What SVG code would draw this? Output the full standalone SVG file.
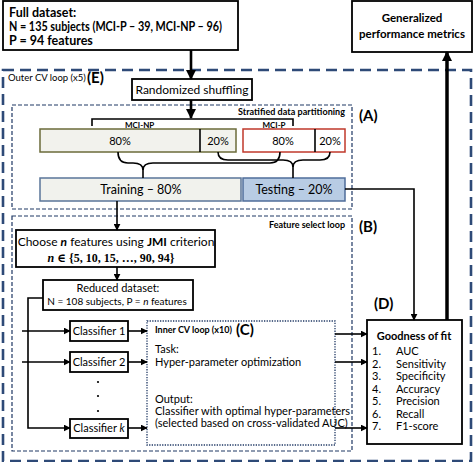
<svg xmlns="http://www.w3.org/2000/svg" width="474" height="462" viewBox="0 0 474 462">
<style>
text{font-family:Lato,"Open Sans","Liberation Sans",sans-serif;fill:#000}
.b{font-weight:bold}
.box{fill:#fff;stroke:#000;stroke-width:1.8}
.lbl{font-size:11px}
.big{font-size:15px;font-weight:bold}
.sm{font-size:9px;font-weight:bold}
.ln{fill:none;stroke:#000;stroke-width:1.6}
.th{fill:none;stroke:#000;stroke-width:2.6}
</style>
<defs>
<marker id="ah" viewBox="0 0 10 10" refX="9" refY="5" markerWidth="7" markerHeight="7" markerUnits="userSpaceOnUse" orient="auto"><path d="M0,0 L10,5 L0,10 z" fill="#000"/></marker>
<marker id="ahb" viewBox="0 0 10 10" refX="9" refY="5" markerWidth="10" markerHeight="10" markerUnits="userSpaceOnUse" orient="auto"><path d="M0,0 L10,5 L0,10 z" fill="#000"/></marker>
</defs>
<rect width="474" height="462" fill="#fff"/>

<!-- loops -->
<g id="outer-loop">
<rect x="3" y="70" width="468" height="391" fill="none" stroke="#2e4a77" stroke-width="2.6" stroke-dasharray="11 6"/>
<text x="8" y="81" style="font-size:9.5px">Outer CV loop (x5)</text>
<text x="87" y="83" class="big">(E)</text>
</g>
<g id="loop-A">
<rect x="12" y="105" width="340" height="104" fill="none" stroke="#1f3864" stroke-width="1.2" stroke-dasharray="4 2"/>
<text x="345" y="115" class="sm" text-anchor="end" textLength="107">Stratified data partitioning</text>
<text x="359" y="121" class="big">(A)</text>
</g>
<g id="loop-B">
<rect x="12" y="216" width="340" height="235" fill="none" stroke="#1f3864" stroke-width="1.2" stroke-dasharray="4 2"/>
<text x="345" y="228" class="sm" text-anchor="end">Feature select loop</text>
<text x="359" y="232" class="big">(B)</text>
</g>

<g id="full-dataset">
<rect x="3" y="1" width="235" height="49" class="box"/>
<text x="9" y="17" class="b" font-size="12.5">Full dataset:</text>
<text x="9" y="31" class="b" font-size="12.5" textLength="213" lengthAdjust="spacingAndGlyphs">N = 135 subjects (MCI-P – 39, MCI-NP – 96)</text>
<text x="9" y="45" class="b" font-size="12.5">P = 94 features</text>
</g>
<g id="generalized">
<rect x="352" y="1" width="120" height="51" class="box"/>
<text x="412" y="22" class="b" font-size="11.5" text-anchor="middle">Generalized</text>
<text x="412" y="38" class="b" font-size="11.5" text-anchor="middle">performance metrics</text>
</g>
<g id="shuffle">
<rect x="132" y="79" width="120" height="21" class="box"/>
<text x="192" y="94" font-size="12" text-anchor="middle">Randomized shuffling</text>
</g>

<g id="mci-np">
<rect x="40" y="129" width="196" height="23" fill="#f2f2ed" stroke="#6b6b3a" stroke-width="1.5"/>
<line x1="200" y1="129" x2="200" y2="152" stroke="#000" stroke-width="1.6"/>
<text x="120" y="145" class="lbl" text-anchor="middle">80%</text>
<text x="218" y="145" class="lbl" text-anchor="middle">20%</text>
<text x="125" y="127.5" class="b" font-size="8">MCI-NP</text>
</g>
<g id="mci-p">
<rect x="243" y="129" width="102" height="23" fill="#fff" stroke="#c0392b" stroke-width="1.5"/>
<line x1="315" y1="129" x2="315" y2="152" stroke="#000" stroke-width="1.6"/>
<text x="283" y="145" class="lbl" text-anchor="middle">80%</text>
<text x="330" y="145" class="lbl" text-anchor="middle">20%</text>
<text x="274" y="127.5" class="b" font-size="8" text-anchor="middle">MCI-P</text>
</g>
<g id="training">
<rect x="40" y="178" width="201" height="23" fill="#f1f2ed" stroke="#5a7599" stroke-width="1.5"/>
<text x="141" y="194" font-size="12.5" text-anchor="middle">Training – 80%</text>
</g>
<g id="testing">
<rect x="243" y="178" width="102" height="23" fill="#b8cce4" stroke="#4f6d9a" stroke-width="1.5"/>
<text x="294" y="194" font-size="12.5" text-anchor="middle">Testing – 20%</text>
</g>

<g id="choose">
<rect x="16" y="230" width="199" height="37" class="box"/>
<text x="116" y="246" font-size="12" text-anchor="middle">Choose <tspan font-weight="bold" font-style="italic">n</tspan> features using <tspan font-weight="bold">JMI</tspan> criterion</text>
<text x="111" y="262" font-size="12" font-weight="bold" text-anchor="middle" style="font-family:'Liberation Serif','DejaVu Serif',serif"><tspan font-style="italic">n</tspan> ∈ {5, 10, 15, …, 90, 94}</text>
</g>
<g id="reduced">
<rect x="43" y="280" width="150" height="30" class="box"/>
<text x="118" y="292" class="lbl" text-anchor="middle">Reduced dataset:</text>
<text x="117" y="305" font-size="10" text-anchor="middle">N = 108 subjects, P = <tspan font-style="italic">n</tspan> features</text>
</g>
<g id="classifier-1">
<rect x="70" y="321" width="58" height="20" class="box"/>
<text x="99" y="335" class="lbl" text-anchor="middle">Classifier 1</text>
</g>
<g id="classifier-2">
<rect x="70" y="352" width="58" height="20" class="box"/>
<text x="99" y="366" class="lbl" text-anchor="middle">Classifier 2</text>
</g>
<g id="dots">
<circle cx="98" cy="382" r="1.1"/><circle cx="98" cy="396" r="1.1"/><circle cx="98" cy="411" r="1.1"/>
</g>
<g id="classifier-k">
<rect x="70" y="419" width="58" height="19" class="box"/>
<text x="99" y="432" class="lbl" text-anchor="middle">Classifier <tspan font-style="italic">k</tspan></text>
</g>

<g id="inner-loop">
<rect x="147" y="321" width="188" height="124" fill="none" stroke="#1f3864" stroke-width="1.3" stroke-dasharray="1.3 1.3"/>
<text x="155" y="333" class="sm">Inner CV loop (x10)</text>
<text x="236" y="335" class="big">(C)</text>
<text x="155" y="353" class="lbl">Task:</text>
<text x="155" y="366" class="lbl">Hyper-parameter optimization</text>
<text x="155" y="403" class="lbl">Output:</text>
<text x="155" y="415" class="lbl">Classifier with optimal hyper-parameters</text>
<text x="155" y="427" class="lbl">(selected based on cross-validated AUC)</text>
</g>

<g id="goodness">
<rect x="367" y="320" width="95" height="124" class="box"/>
<text x="414" y="340" class="b" font-size="11" text-anchor="middle">Goodness of fit</text>
<text x="372" y="355" class="lbl">1.</text><text x="396" y="355" class="lbl">AUC</text>
<text x="372" y="368" class="lbl">2.</text><text x="396" y="368" class="lbl">Sensitivity</text>
<text x="372" y="380" class="lbl">3.</text><text x="396" y="380" class="lbl">Specificity</text>
<text x="372" y="393" class="lbl">4.</text><text x="396" y="393" class="lbl">Accuracy</text>
<text x="372" y="405" class="lbl">5.</text><text x="396" y="405" class="lbl">Precision</text>
<text x="372" y="418" class="lbl">6.</text><text x="396" y="418" class="lbl">Recall</text>
<text x="372" y="430" class="lbl">7.</text><text x="396" y="430" class="lbl">F1-score</text>
<text x="374" y="309" class="big">(D)</text>
</g>

<g id="connectors">
<line x1="191" y1="50" x2="191" y2="79" class="th" marker-end="url(#ahb)"/>
<line x1="191" y1="100" x2="191" y2="118" class="th" marker-end="url(#ahb)"/>
<path d="M92,126 V119 H293 V126" class="ln" stroke-width="2"/>
<path d="M118,152 Q118,163 128,163 H133 Q143,163 143,170 Q143,163 153,163 H270 Q280,163 280,152" class="ln" stroke-width="1.8"/>
<line x1="143" y1="168" x2="143" y2="178" class="ln" stroke-width="1.8"/>
<path d="M218,152 Q218,160 228,160 H283 Q293,160 293,167 Q293,160 303,160 H320 Q330,160 330,152" class="ln" stroke-width="1.8"/>
<line x1="293" y1="165" x2="293" y2="178" class="ln" stroke-width="1.8"/>
<line x1="117" y1="201" x2="117" y2="230" class="ln" stroke-width="2" marker-end="url(#ah)"/>
<path d="M345,189 H414 V320" class="ln" stroke-width="1.5" marker-end="url(#ah)"/>
<line x1="117" y1="267" x2="117" y2="280" class="ln" stroke-width="2" marker-end="url(#ah)"/>
<path d="M43,298 H28 V428 H70" class="ln" stroke-width="1.8" marker-end="url(#ah)"/>
<line x1="22" y1="331" x2="70" y2="331" class="ln" stroke-width="1.8" marker-end="url(#ah)"/>
<line x1="22" y1="362" x2="70" y2="362" class="ln" stroke-width="1.8" marker-end="url(#ah)"/>
<line x1="128" y1="331" x2="147" y2="331" class="ln" stroke-width="1.8" marker-end="url(#ah)"/>
<line x1="128" y1="362" x2="147" y2="362" class="ln" stroke-width="1.8" marker-end="url(#ah)"/>
<line x1="128" y1="428" x2="147" y2="428" class="ln" stroke-width="1.8" marker-end="url(#ah)"/>
<line x1="335" y1="334" x2="367" y2="334" class="ln" stroke-width="1.6" marker-end="url(#ah)"/>
<line x1="335" y1="362" x2="367" y2="362" class="ln" stroke-width="1.6" marker-end="url(#ah)"/>
<line x1="335" y1="428" x2="367" y2="428" class="ln" stroke-width="1.6" marker-end="url(#ah)"/>
<line x1="447" y1="320" x2="447" y2="52" stroke="#000" stroke-width="3.5" marker-end="url(#ahb)"/>
</g>
</svg>
